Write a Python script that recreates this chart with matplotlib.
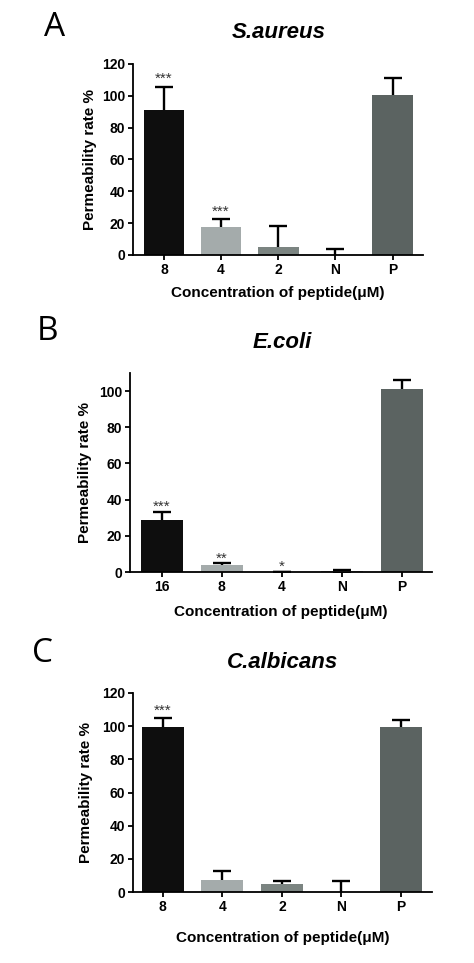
import matplotlib
matplotlib.use("Agg")
import matplotlib.pyplot as plt
import numpy as np

plt.rcParams['font.family'] = ['Liberation Sans', 'DejaVu Sans']

# ---- data ----
cats_a = ["8", "4", "2", "N", "P"]
vals_a = [91.0, 17.4, 4.8, 0.0, 100.3]
errs_a = [14.8, 5.4, 13.4, 3.8, 10.9]
stars_a = ["***", "***", "", "", ""]

cats_b = ["16", "8", "4", "N", "P"]
vals_b = [28.7, 3.7, 0.0, 0.7, 101.0]
errs_b = [4.6, 1.3, 0.0, 0.6, 4.9]
stars_b = ["***", "**", "*", "", ""]

cats_c = ["8", "4", "2", "N", "P"]
vals_c = [99.5, 7.2, 4.6, 0.0, 99.7]
errs_c = [5.2, 5.7, 1.8, 6.6, 4.0]
stars_c = ["***", "", "", "", ""]

titles = ["S.aureus", "E.coli", "C.albicans"]
letters = ["A", "B", "C"]
bar_colors = ["#0e0e0e", "#a4abab", "#7b8481", "#9a9a9a", "#5b6361"]

W, H = 474, 963
fig = plt.figure(figsize=(W / 100, H / 100), dpi=100)

def rect(l, r, t, b):
    return [l / W, 1 - b / H, (r - l) / W, (b - t) / H]

panels = [
    dict(cats=cats_a, vals=vals_a, errs=errs_a, stars=stars_a,
         rect=rect(133, 423, 64, 255), ylim=(0, 120), yticks=np.arange(0, 121, 20),
         xlim=(-0.54, 4.53), title_xy=(279, 32), letter_xy=(55, 28),
         ylab_x=90, xlab_y=293, star_off=[5.0, 4.5, 0, 0, 0]),
    dict(cats=cats_b, vals=vals_b, errs=errs_b, stars=stars_b,
         rect=rect(130, 432, 373, 572), ylim=(0, 110), yticks=np.arange(0, 101, 20),
         xlim=(-0.53, 4.5), title_xy=(282, 342), letter_xy=(48, 332),
         ylab_x=85, xlab_y=612, star_off=[2.6, 2.4, 3.0, 0, 0]),
    dict(cats=cats_c, vals=vals_c, errs=errs_c, stars=stars_c,
         rect=rect(133, 432, 693, 892), ylim=(0, 120), yticks=np.arange(0, 121, 20),
         xlim=(-0.5, 4.52), title_xy=(283, 662), letter_xy=(42, 653),
         ylab_x=86, xlab_y=938, star_off=[4.3, 0, 0, 0, 0]),
]

for i, p in enumerate(panels):
    ax = fig.add_axes(p["rect"])
    x = np.arange(len(p["cats"]))
    vals = np.array(p["vals"])
    errs = np.array(p["errs"])
    ax.errorbar(x, vals, yerr=errs, fmt="none", ecolor="black",
                elinewidth=1.7, capsize=6.5, capthick=1.7, zorder=1)
    ax.bar(x, vals, width=0.71, color=bar_colors, zorder=2)
    for xi, v, e, s, off in zip(x, vals, errs, p["stars"], p["star_off"]):
        if s:
            ax.text(xi, v + e + off, s, ha="center", va="center",
                    fontsize=11, color="#333333", zorder=3)
    ax.set_xlim(*p["xlim"])
    ax.set_ylim(*p["ylim"])
    ax.set_yticks(p["yticks"])
    ax.set_xticks(x)
    ax.set_xticklabels(p["cats"])
    for sp in ["top", "right"]:
        ax.spines[sp].set_visible(False)
    for sp in ["left", "bottom"]:
        ax.spines[sp].set_linewidth(1.3)
    ax.tick_params(axis="both", direction="out", length=3.5, width=1.3,
                   labelsize=10, pad=2)
    for lab in ax.get_xticklabels() + ax.get_yticklabels():
        lab.set_fontweight("bold")
    l, b, w, h = p["rect"]
    ax_left_px = l * W
    ax_w_px = w * W
    ax_bot_px = (1 - b) * H
    ax_h_px = h * H
    ax.set_ylabel("Permeability rate %", fontsize=11, fontweight="bold")
    ax.yaxis.set_label_coords((p["ylab_x"] - ax_left_px) / ax_w_px, 0.5)
    ax.set_xlabel("Concentration of peptide(μM)", fontsize=11, fontweight="bold")
    ax.xaxis.set_label_coords(0.5, -(p["xlab_y"] - ax_bot_px) / ax_h_px)
    ax.xaxis.label.set_va("center")
    ax.yaxis.label.set_va("center")
    tx, ty = p["title_xy"]
    fig.text(tx / W, 1 - ty / H, titles[i], ha="center", va="center",
             fontsize=16, fontweight="bold", fontstyle="italic")
    lx, ly = p["letter_xy"]
    fig.text(lx / W, 1 - ly / H, letters[i], ha="center", va="center",
             fontsize=24, family=["Open Sans", "DejaVu Sans"])

fig.savefig("out.png", dpi=100)
